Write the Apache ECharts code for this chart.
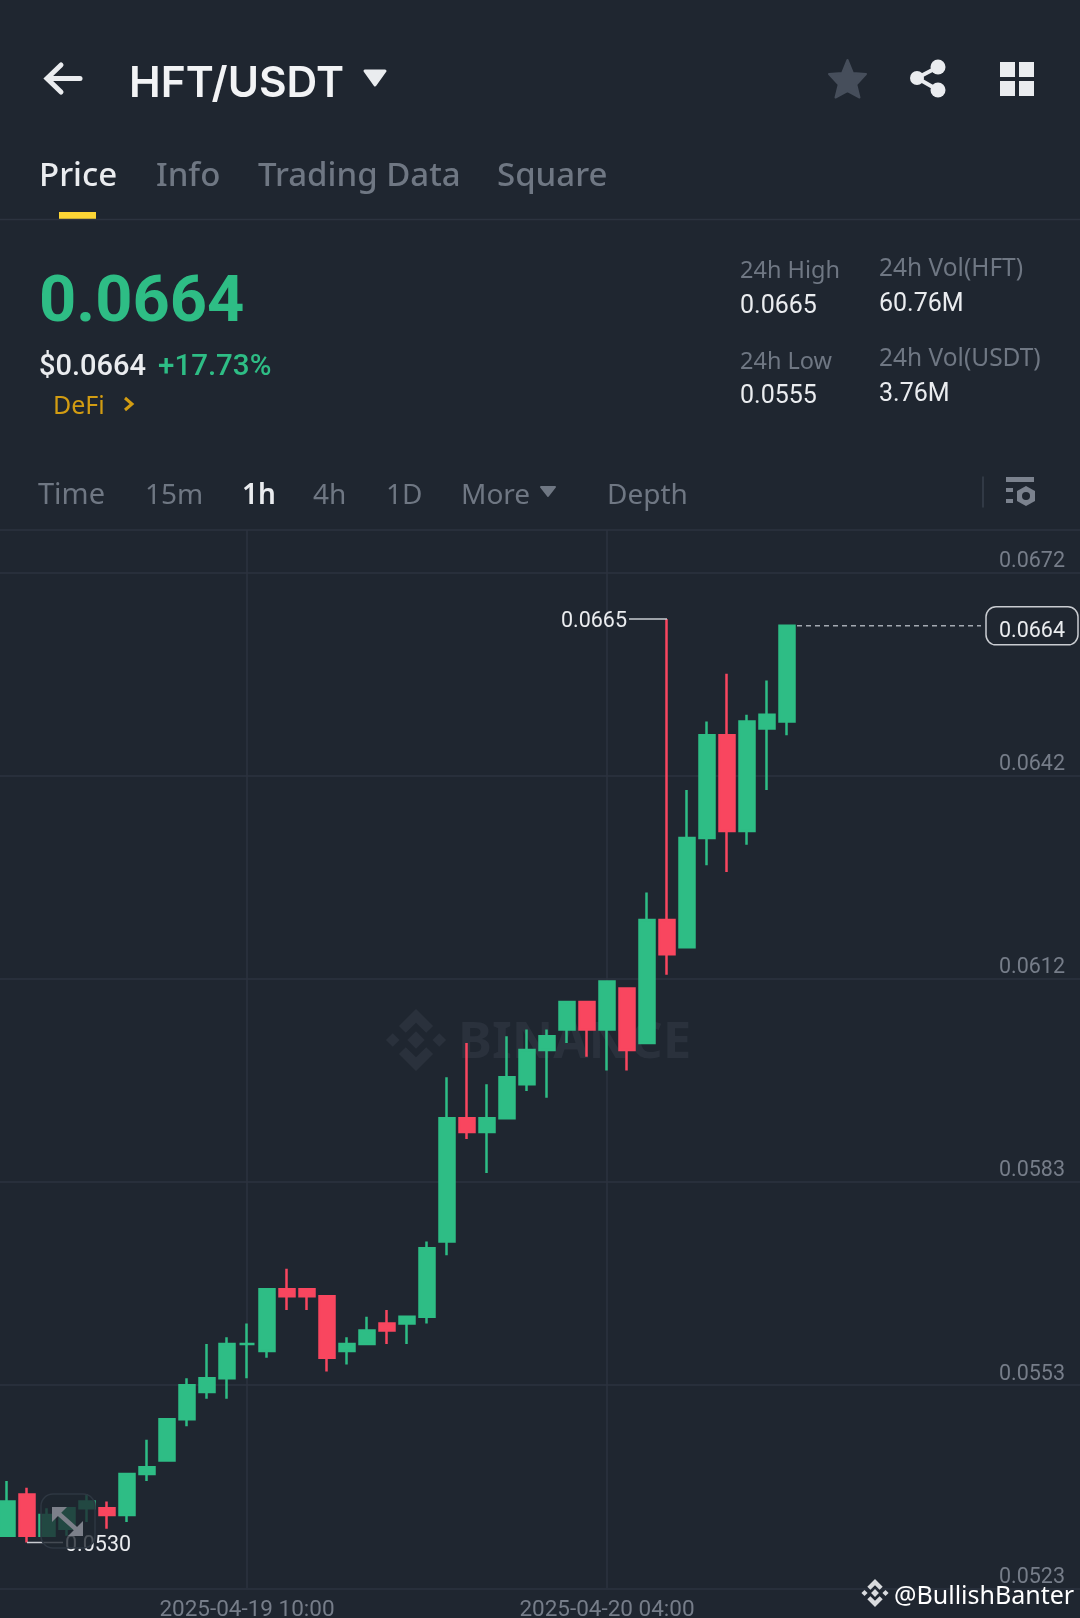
<!DOCTYPE html>
<html>
<head>
<meta charset="utf-8">
<title>HFT/USDT</title>
<script src="https://cdn.jsdelivr.net/npm/echarts@6/dist/echarts.min.js"></script>
<style>
  html, body { margin: 0; padding: 0; background: #1f2630; }
  #chart-container { width: 1080px; height: 1618px; }
</style>
</head>
<body>
<div id="chart-container"></div>
<script>
// hourly candles
var times = [
  "2025-04-18 22:00", "2025-04-18 23:00", "2025-04-19 00:00", "2025-04-19 01:00", "2025-04-19 02:00",
  "2025-04-19 03:00", "2025-04-19 04:00", "2025-04-19 05:00", "2025-04-19 06:00", "2025-04-19 07:00",
  "2025-04-19 08:00", "2025-04-19 09:00", "2025-04-19 10:00", "2025-04-19 11:00", "2025-04-19 12:00",
  "2025-04-19 13:00", "2025-04-19 14:00", "2025-04-19 15:00", "2025-04-19 16:00", "2025-04-19 17:00",
  "2025-04-19 18:00", "2025-04-19 19:00", "2025-04-19 20:00", "2025-04-19 21:00", "2025-04-19 22:00",
  "2025-04-19 23:00", "2025-04-20 00:00", "2025-04-20 01:00", "2025-04-20 02:00", "2025-04-20 03:00",
  "2025-04-20 04:00", "2025-04-20 05:00", "2025-04-20 06:00", "2025-04-20 07:00", "2025-04-20 08:00",
  "2025-04-20 09:00", "2025-04-20 10:00", "2025-04-20 11:00", "2025-04-20 12:00", "2025-04-20 13:00"
];
var opens = [
  0.0531, 0.0537, 0.0531, 0.0532, 0.0535, 0.0535, 0.0534, 0.0540, 0.0542, 0.0548,
  0.0552, 0.0554, 0.0559, 0.0558, 0.0567, 0.0567, 0.0566, 0.0558, 0.0559, 0.0562,
  0.0562, 0.0563, 0.0574, 0.0592, 0.0590, 0.0592, 0.0597, 0.0602, 0.0605, 0.0609,
  0.0605, 0.0611, 0.0603, 0.0621, 0.0617, 0.0633, 0.0648, 0.0634, 0.0649, 0.0650
];
var closes = [
  0.0536, 0.0531, 0.0534, 0.0535, 0.0536, 0.0534, 0.0540, 0.0541, 0.0548, 0.0553,
  0.0554, 0.0559, 0.0559, 0.0567, 0.0566, 0.0566, 0.0557, 0.0559, 0.0561, 0.0561,
  0.0563, 0.0573, 0.0592, 0.0590, 0.0592, 0.0598, 0.0602, 0.0604, 0.0609, 0.0605,
  0.0612, 0.0602, 0.0621, 0.0616, 0.0633, 0.0648, 0.0634, 0.0650, 0.0651, 0.0664
];
var lows = [
  0.0531, 0.0530, 0.0531, 0.0531, 0.0533, 0.0532, 0.0533, 0.0539, 0.0542, 0.0547,
  0.0551, 0.0551, 0.0554, 0.0557, 0.0564, 0.0564, 0.0555, 0.0556, 0.0559, 0.0559,
  0.0559, 0.0562, 0.0572, 0.0589, 0.0584, 0.0592, 0.0596, 0.0595, 0.0603, 0.0601,
  0.0599, 0.0599, 0.0603, 0.0613, 0.0617, 0.0629, 0.0628, 0.0632, 0.0640, 0.0648
];
var highs = [
  0.0539, 0.0538, 0.0535, 0.0535, 0.0537, 0.0536, 0.0540, 0.0545, 0.0548, 0.0554,
  0.0559, 0.0560, 0.0562, 0.0567, 0.0570, 0.0567, 0.0566, 0.0560, 0.0563, 0.0564,
  0.0563, 0.0574, 0.0598, 0.0603, 0.0597, 0.0604, 0.0605, 0.0605, 0.0609, 0.0609,
  0.0612, 0.0611, 0.0625, 0.0665, 0.0640, 0.0650, 0.0657, 0.0651, 0.0656, 0.0664
];
// empty hours to the right of the last candle
var emptySlots = ["+1", "+2", "+3", "+4", "+5", "+6", "+7", "+8", "+9", "+10", "+11", "+12", "+13", "+14", "+15"];
var xLabels = ["2025-04-19 10:00", "2025-04-20 04:00"];
var yTicks = [0.05233, 0.0553, 0.05827, 0.06124, 0.06421, 0.06718];
var yMin = 0.05233;
var yMax = 0.067801;
var highIndex = 33;
var lowIndex = 1;
var lastIndex = 39;

var GREEN = "#2ebd85";
var RED = "#f9465f";
var BG = "#1f2630";
var GRID = "#2c333f";
var MUTED = "#6f7783";
var AXIS_TEXT = "#767d89";
var WHITE = "#eaecef";
var FONT = '"Noto Sans"';
var HEAD_FONT = "Inter";
var NUM_FONT = "Roboto";

var candleData = [];
for (var i = 0; i < times.length; i++) {
  candleData.push([opens[i], closes[i], lows[i], highs[i]]);
}

// small helpers for the app chrome around the chart
// y is the text baseline; zrender places the box top, so move up by about 3/4 of the size
function txt(text, x, y, fill, font, extra) {
  var size = parseFloat(font.match(/(\d+(\.\d+)?)px/)[1]);
  return Object.assign({
    type: "text", z: 20, silent: true,
    style: { text: text, x: x, y: y - size * 0.76, fill: fill, font: font }
  }, extra || {});
}
function poly(points, fill, z, stroke, lineWidth) {
  return {
    type: "polygon", z: z || 20, silent: true,
    shape: { points: points },
    style: { fill: fill, stroke: stroke || null, lineWidth: lineWidth || 0, lineJoin: "round" }
  };
}
function box(x, y, w, h, fill, r) {
  return { type: "rect", z: 20, silent: true, shape: { x: x, y: y, width: w, height: h, r: r || 0 }, style: { fill: fill } };
}
function seg(x1, y1, x2, y2, stroke, lineWidth, z) {
  return {
    type: "line", z: z || 20, silent: true,
    shape: { x1: x1, y1: y1, x2: x2, y2: y2 },
    style: { stroke: stroke, lineWidth: lineWidth, lineCap: "round" }
  };
}
function circle(cx, cy, r, fill) {
  return { type: "circle", z: 20, silent: true, shape: { cx: cx, cy: cy, r: r }, style: { fill: fill } };
}
function logo(cx, cy, r, fill, z) {
  var parts = [
    [[0, -0.28], [0.28, 0], [0, 0.28], [-0.28, 0]],
    [[-0.75, -0.22], [-0.53, 0], [-0.75, 0.22], [-0.97, 0]],
    [[0.75, -0.22], [0.97, 0], [0.75, 0.22], [0.53, 0]],
    [[0, -1], [0.55, -0.45], [0.33, -0.23], [0, -0.56], [-0.33, -0.23], [-0.55, -0.45]],
    [[0, 1], [0.55, 0.45], [0.33, 0.23], [0, 0.56], [-0.33, 0.23], [-0.55, 0.45]]
  ];
  return parts.map(function (p) {
    return poly(p.map(function (q) { return [cx + q[0] * r, cy + q[1] * r]; }), fill, z);
  });
}

var chrome = [
  // header
  seg(48, 78.5, 80, 78.5, WHITE, 5),
  { type: "polyline", z: 20, silent: true, shape: { points: [[61, 65], [47, 78.5], [61, 92]] }, style: { stroke: WHITE, lineWidth: 5, fill: null, lineCap: "round" } },
  txt("HFT/USDT", 129, 95, "#f2f3f5", "600 42.5px " + HEAD_FONT),
  poly([[365, 71], [385, 71], [375, 85]], WHITE, 20, WHITE, 3),
  poly([[847.5, 60], [852.8, 73], [866, 74], [856.3, 84.5], [859.5, 97.5], [847.5, 91], [835.5, 97.5], [838.7, 84.5], [829, 74], [842.2, 73]], "#464e5b", 20, "#464e5b", 2),
  seg(917, 78, 938, 67, WHITE, 4),
  seg(917, 78, 938, 90, WHITE, 4),
  circle(938, 67, 7.5, WHITE),
  circle(917, 78, 7, WHITE),
  circle(938, 90, 7.5, WHITE),
  box(1000, 62, 15, 15, WHITE),
  box(1019, 62, 15, 15, WHITE),
  box(1000, 81, 15, 15, WHITE),
  box(1019, 81, 15, 15, WHITE),
  // tabs
  txt("Price", 39, 185, WHITE, "500 33px " + FONT),
  txt("Info", 156, 185, MUTED, "500 33px " + FONT),
  txt("Trading Data", 258, 185, MUTED, "500 33px " + FONT),
  txt("Square", 497, 185, MUTED, "500 33px " + FONT),
  box(59, 212, 37, 7, "#fcd535"),
  seg(0, 219.5, 1080, 219.5, GRID, 1.5),
  // price block
  txt("0.0664", 39, 322, GREEN, "700 65px " + NUM_FONT),
  txt("$0.0664", 39, 375, WHITE, "500 29px " + NUM_FONT),
  txt("+17.73%", 158, 375, GREEN, "500 29.5px " + NUM_FONT),
  txt("DeFi", 53, 413, "#d29c12", "400 25px " + FONT),
  { type: "polyline", z: 20, silent: true, shape: { points: [[125, 398], [132, 404], [125, 410]] }, style: { stroke: "#d29c12", lineWidth: 3, fill: null } },
  // 24h stats
  txt("24h High", 740, 277, MUTED, "400 23.5px " + FONT),
  txt("0.0665", 740, 313, WHITE, "400 25px " + NUM_FONT),
  txt("24h Low", 740, 368, MUTED, "400 23.5px " + FONT),
  txt("0.0555", 740, 403, WHITE, "400 25px " + NUM_FONT),
  txt("24h Vol(HFT)", 879, 275, MUTED, "400 24.5px " + FONT),
  txt("60.76M", 879, 311, WHITE, "400 25px " + NUM_FONT),
  txt("24h Vol(USDT)", 879, 365, MUTED, "400 24.5px " + FONT),
  txt("3.76M", 879, 401, WHITE, "400 25px " + NUM_FONT),
  // timeframes
  txt("Time", 38, 503, MUTED, "400 29px " + FONT),
  txt("15m", 145, 503, MUTED, "400 28px " + FONT),
  txt("1h", 242, 503, WHITE, "600 28px " + FONT),
  txt("4h", 313, 503, MUTED, "400 28px " + FONT),
  txt("1D", 386, 503, MUTED, "400 28px " + FONT),
  txt("More", 461, 503, MUTED, "400 28px " + FONT),
  poly([[541, 487], [555, 487], [548, 496]], MUTED, 20, MUTED, 2),
  txt("Depth", 607, 503, MUTED, "400 28px " + FONT),
  seg(983, 477, 983, 507, "#39414d", 1.5),
  box(1006, 477, 28, 5, "#7b828e"),
  box(1006, 488, 7, 4, "#7b828e"),
  box(1006, 499, 7, 4, "#7b828e"),
  poly([[1026, 486], [1035, 491], [1035, 501], [1026, 506], [1017, 501], [1017, 491]], "#7b828e"),
  circle(1026, 496, 4, BG),
  seg(0, 530, 1080, 530, GRID, 1.5),
  // expand button over the chart
  {
    type: "rect", z: 30, silent: true,
    shape: { x: 41, y: 1494, width: 54, height: 54, r: 12 },
    style: { fill: "rgba(31,38,48,0.78)", stroke: "#2e3742", lineWidth: 1.5 }
  },
  seg(58, 1513, 77, 1530, "#7c808a", 4.5, 31),
  poly([[52, 1507], [67, 1507], [52, 1522]], "#7c808a", 31),
  poly([[83, 1536], [68, 1536], [83, 1521]], "#7c808a", 31),
  // poster tag
  txt("@BullishBanter", 894, 1603, "#ffffff", "400 25px " + FONT, { z: 40 })
]
  .concat(logo(875, 1593, 14, "#d9dbde", 40))
  // BINANCE watermark sits under the candles
  .concat(logo(416, 1040, 31, "#2a313c", 1))
  .concat([txt("BINANCE", 458, 1057, "#2a313c", "700 51px " + FONT, { z: 1 })]);

// price labels are anchored to the data through the axes
function renderMarks(params, api) {
  var p = api.coord([api.value(0), api.value(1)]);
  var label = api.value(1).toFixed(4);
  if (params.dataIndex === 0) {
    return {
      type: "group",
      children: [
        { type: "line", shape: { x1: p[0] + 10, y1: p[1], x2: 981, y2: p[1] }, style: { stroke: "#a4a9b1", lineWidth: 1.5, lineDash: [5, 4] } },
        { type: "rect", shape: { x: 986, y: p[1] - 19, width: 92, height: 38, r: 10 }, style: { fill: BG, stroke: "#c9ccd1", lineWidth: 1.5 } },
        { type: "text", style: { text: label, x: 1065, y: p[1] + 6, fill: WHITE, font: "400 21.5px " + NUM_FONT, textAlign: "right", textVerticalAlign: "middle" } }
      ]
    };
  }
  if (params.dataIndex === 1) {
    return {
      type: "group",
      children: [
        { type: "line", shape: { x1: p[0], y1: p[1], x2: p[0] - 38, y2: p[1] }, style: { stroke: "#c9ccd1", lineWidth: 1.5 } },
        { type: "text", style: { text: label, x: p[0] - 40, y: p[1] + 3, fill: WHITE, font: "400 21.5px " + NUM_FONT, textAlign: "right", textVerticalAlign: "middle" } }
      ]
    };
  }
  return {
    type: "group",
    children: [
      { type: "line", shape: { x1: p[0], y1: p[1], x2: p[0] + 36, y2: p[1] }, style: { stroke: "#c9ccd1", lineWidth: 1.5 } },
      { type: "text", style: { text: label, x: p[0] + 38, y: p[1] + 3, fill: WHITE, font: "400 21.5px " + NUM_FONT, textAlign: "left", textVerticalAlign: "middle" } }
    ]
  };
}

var dom = document.getElementById("chart-container");
var myChart = echarts.init(dom, null, { renderer: "canvas" });
var showXLabel = function (index, value) {
  return xLabels.indexOf(value) >= 0;
};
var option = {
  animation: false,
  backgroundColor: BG,
  textStyle: { fontFamily: NUM_FONT },
  grid: { left: -3, width: 1100, top: 530, bottom: 29.7, containLabel: false, outerBoundsMode: "none" },
  xAxis: {
    type: "category",
    data: times.concat(emptySlots),
    boundaryGap: true,
    axisLine: { show: false },
    axisTick: { show: false, alignWithLabel: true, interval: showXLabel },
    axisLabel: { interval: showXLabel, color: AXIS_TEXT, fontSize: 22.5, fontFamily: NUM_FONT, margin: 11, hideOverlap: false },
    splitLine: { show: true, alignWithLabel: true, interval: showXLabel, lineStyle: { color: GRID, width: 1.5 } }
  },
  yAxis: {
    type: "value",
    position: "right",
    min: yMin,
    max: yMax,
    axisLine: { show: false },
    axisTick: { show: false, customValues: yTicks },
    axisLabel: {
      customValues: yTicks,
      inside: true,
      margin: 32,
      align: "right",
      verticalAlign: "bottom",
      color: AXIS_TEXT,
      fontSize: 21.5,
      fontFamily: NUM_FONT,
      formatter: function (v) { return v.toFixed(4); }
    },
    splitLine: { show: true, lineStyle: { color: GRID, width: 1.5 } }
  },
  series: [
    {
      type: "candlestick",
      data: candleData,
      barWidth: 15.5,
      itemStyle: { color: GREEN, color0: RED, borderColor: GREEN, borderColor0: RED, borderWidth: 2.5 }
    },
    {
      type: "custom",
      z: 5,
      silent: true,
      clip: false,
      renderItem: renderMarks,
      data: [[lastIndex, closes[lastIndex]], [highIndex, highs[highIndex]], [lowIndex, lows[lowIndex]]]
    }
  ],
  graphic: { elements: chrome }
};
myChart.setOption(option, true);
</script>
</body>
</html>
